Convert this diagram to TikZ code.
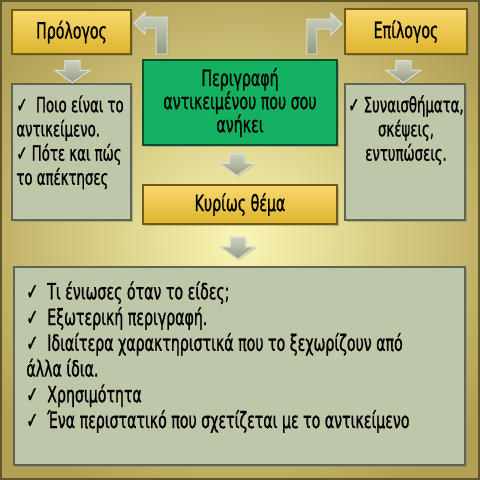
\documentclass[tikz,border=0pt]{standalone}
\usepackage{fontspec}
\setmainfont{DejaVu Sans}[FakeStretch=0.63,FakeBold=0.9]
\usetikzlibrary{shapes.arrows,shadows,calc}
\definecolor{bgin}{RGB}{250,246,180}
\definecolor{bgout}{RGB}{178,160,84}
\definecolor{frame}{RGB}{96,86,44}
\definecolor{boxyellow}{RGB}{246,200,50}
\definecolor{boxgreen}{RGB}{20,178,96}
\definecolor{boxgrey}{RGB}{190,199,168}
\definecolor{arrowgrey}{RGB}{172,180,150}
\tikzset{
  titlebox/.style={draw=black!55!boxyellow,line width=1.2pt,top color=boxyellow!70!white,bottom color=boxyellow!90!black,
    drop shadow={opacity=0.45,shadow xshift=1.2pt,shadow yshift=-1.2pt},font=\fontsize{16}{17.7}\selectfont},
  greenbox/.style={draw=black!55!boxgreen,line width=1.2pt,fill=boxgreen,
    drop shadow={opacity=0.45,shadow xshift=1.2pt,shadow yshift=-1.2pt}},
  greybox/.style={draw=black!50!boxgrey,line width=1.2pt,fill=boxgrey,
    drop shadow={opacity=0.45,shadow xshift=1.2pt,shadow yshift=-1.2pt}},
  dnarrow/.style={single arrow,shape border rotate=270,draw=white!55!arrowgrey,line width=0.8pt,
    top color=arrowgrey!60!white,bottom color=arrowgrey!85!black,inner sep=0.175cm,
    minimum height=0.55cm,minimum width=0.725cm,single arrow tip angle=110,
    drop shadow={opacity=0.35,shadow xshift=0.8pt,shadow yshift=-0.8pt}},
  bentarrow/.style={draw=white!55!arrowgrey,line width=0.8pt,top color=arrowgrey!60!white,bottom color=arrowgrey!85!black,
    drop shadow={opacity=0.35,shadow xshift=0.8pt,shadow yshift=-0.8pt}},
  bodytext/.style={inner sep=0pt,font=\fontsize{15}{17.2}\selectfont}
}
\begin{document}
\begin{tikzpicture}[x=0.025cm,y=-0.025cm]
  \useasboundingbox (0,0) rectangle (480,480);
  % background
  \begin{scope}
    \clip (0,0) rectangle (480,480);
    \shade[inner color=bgin,outer color=bgout] (-60,-40) rectangle (540,520);
  \end{scope}
  \draw[frame,line width=2pt] (1,1) rectangle (479,479);
  % boxes
  \node[titlebox,minimum width=2.975cm,minimum height=1.1cm] (pro) at (71.5,32) {Πρόλογος};
  \node[titlebox,minimum width=3.05cm,minimum height=1.125cm] (epi) at (406,31.5) {Επίλογος};
  \node[greenbox,minimum width=4.85cm,minimum height=2.125cm,align=center,font=\fontsize{16}{16.5}\selectfont] (desc) at (240,102.5) {Περιγραφή\\αντικειμένου που σου\\ανήκει};
  \node[titlebox,minimum width=4.85cm,minimum height=0.975cm] (main) at (240,204.5) {Κυρίως θέμα};
  \node[greybox,minimum width=2.975cm,minimum height=3.4cm] (lbox) at (71.5,152) {};
  \node[greybox,minimum width=3.0cm,minimum height=3.4cm] (rbox) at (405,152) {};
  \node[greybox,minimum width=11.275cm,minimum height=4.95cm] (bbox) at (239.5,366) {};
  % texts in the grey boxes
  \node[bodytext,anchor=north west,align=left] (ltext) at ($(lbox.north west)+(5,12)$)
    {✓ \ Ποιο είναι το\\αντικείμενο.\\✓ Πότε και πώς\\το απέκτησες};
  \node[bodytext,anchor=north,align=center] (rtext) at ($(rbox.north)+(1,12)$)
    {✓ Συναισθήματα,\\σκέψεις,\\εντυπώσεις.};
  \node[bodytext,anchor=north west,align=left,font=\fontsize{16}{18.3}\selectfont] (btext) at ($(bbox.north west)+(13,15)$)
    {✓ \ Τι ένιωσες όταν το είδες;\\✓ \ Εξωτερική περιγραφή.\\✓ \ Ιδιαίτερα χαρακτηριστικά που το ξεχωρίζουν από\\άλλα ίδια.\\✓ \ Χρησιμότητα\\✓ \ Ένα περιστατικό που σχετίζεται με το αντικείμενο};
  % down arrows
  \node[dnarrow] (a1) at ($(pro.south)!0.5!(lbox.north)+(1,0)$) {};
  \node[dnarrow] (a2) at ($(epi.south)!0.5!(rbox.north)+(-2,0)$) {};
  \node[dnarrow] (a3) at ($(desc.south)!0.5!(main.north)+(-3,-3)$) {};
  \node[dnarrow] (a4) at ($(main.south)!0.5!(bbox.north)+(-2,0)$) {};
  % bent arrows
  \draw[bentarrow] ($(desc.north west)+(14,-5)$) -- ++(11,0) -- ++(0,-37) -- ++(-22,0) -- ++(0,-5)
    -- ++(-11,11) -- ++(11,11) -- ++(0,-6) -- ++(11,0) -- cycle;
  \draw[bentarrow] ($(desc.north east)+(-31,-5)$) -- ++(10,0) -- ++(0,-25) -- ++(14,0) -- ++(0,6)
    -- ++(11,-11) -- ++(-11,-11) -- ++(0,6) -- ++(-24,0) -- cycle;
\end{tikzpicture}
\end{document}
